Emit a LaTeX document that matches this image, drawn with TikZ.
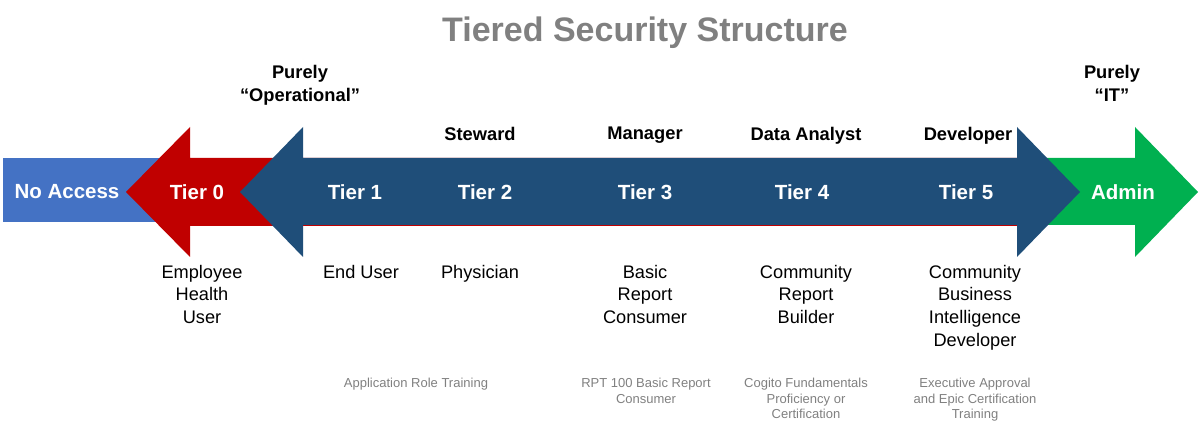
\documentclass[tikz,border=0pt]{standalone}
\usepackage{fontspec}
\setmainfont{Liberation Sans}
\usepackage{tikz}

\definecolor{accessblue}{HTML}{4472C4}
\definecolor{tierred}{HTML}{C00000}
\definecolor{tiernavy}{HTML}{1F4E79}
\definecolor{admingreen}{HTML}{00B050}
\definecolor{titlegray}{HTML}{808080}
\definecolor{notegray}{HTML}{808080}

\tikzset{
    tier/.style={text=white, inner sep=0, font=\fontsize{20.5}{24}\selectfont\bfseries},
    role/.style={anchor=north, inner sep=0, align=center, font=\fontsize{18.3}{23}\selectfont\bfseries},
    user/.style={anchor=north, inner sep=0, align=center, font=\fontsize{18.2}{22.6}\selectfont},
    note/.style={anchor=north, inner sep=0, align=center, text=notegray, font=\fontsize{13}{15.6}\selectfont}
}

\begin{document}
\begin{tikzpicture}[x=1pt, y=-1pt]
    \useasboundingbox (0, 0) rectangle (1199, 435);
    \coordinate (R1) at (126, 192);
    \coordinate (R2) at (190, 127);
    \coordinate (R3) at (190, 158);
    \coordinate (R4) at (1045, 158);
    \coordinate (R5) at (1045, 225.8);
    \coordinate (R6) at (190, 225.8);
    \coordinate (R7) at (190, 257);
    \coordinate (N1) at (240, 192);
    \coordinate (N2) at (303, 127);
    \coordinate (N3) at (1017, 127);
    \coordinate (N4) at (1080, 192);
    \coordinate (N5) at (1017, 257);
    \coordinate (N6) at (303, 257);
    \coordinate (G1) at (1135, 127);
    \coordinate (G2) at (1198, 192);
    \coordinate (G3) at (1135, 257);

%blue   no access
%red    tier 0
%navy   tiers 1-5
%green  admin

    \fill[accessblue] (3, 158) rectangle (200, 222); % no access
    \fill[tierred] (R1) -- (R2) -- (R3) -- (R4) -- (R5) -- (R6) -- (R7) -- cycle; % tier 0
    \fill[admingreen] (1040, 158) -- (1135, 158) -- (G1) -- (G2) -- (G3) -- (1135, 225) -- (1040, 225) -- cycle; % admin
    \fill[tiernavy] (N1) -- (N2) -- (303, 158) -- (1017, 158) -- (N3) -- (N4) -- (N5) -- (1017, 225) -- (303, 225) -- (N6) -- cycle; % tiers

    \node[titlegray, anchor=base, font=\fontsize{34}{40}\selectfont\bfseries] (title) at (645, 42) {Tiered Security Structure};

    \node[tier] (noaccess) at (67, 192) {No Access};
    \node[tier] (tier0) at (197, 192) {Tier 0};
    \node[tier] (tier1) at (355, 192) {Tier 1};
    \node[tier] (tier2) at (485, 192) {Tier 2};
    \node[tier] (tier3) at (645, 192) {Tier 3};
    \node[tier] (tier4) at (802, 192) {Tier 4};
    \node[tier] (tier5) at (966, 192) {Tier 5};
    \node[tier] (admin) at (1123, 192) {Admin};

    \node[role] (operational) at (300, 65) {Purely\\“Operational”};
    \node[role] (steward) at (480, 127) {Steward};
    \node[role] (manager) at (645, 127) {Manager};
    \node[role] (analyst) at (806, 127) {Data Analyst};
    \node[role] (developer) at (968, 127) {Developer};
    \node[role] (it) at (1112, 65) {Purely\\“IT”};

    \node[user] (employee) at (202, 265) {Employee\\Health\\User};
    \node[user] (enduser) at (361, 265) {End User};
    \node[user] (physician) at (480, 265) {Physician};
    \node[user] (consumer) at (645, 265) {Basic\\Report\\Consumer};
    \node[user] (builder) at (806, 265) {Community\\Report\\Builder};
    \node[user] (bideveloper) at (975, 265) {Community\\Business\\Intelligence\\Developer};

    \node[note] (roletraining) at (416, 378) {Application Role Training};
    \node[note] (rpt) at (646, 378) {RPT 100 Basic Report\\Consumer};
    \node[note] (cogito) at (806, 378) {Cogito Fundamentals\\Proficiency or\\Certification};
    \node[note] (approval) at (975, 378) {Executive Approval\\and Epic Certification\\Training};
\end{tikzpicture}
\end{document}
